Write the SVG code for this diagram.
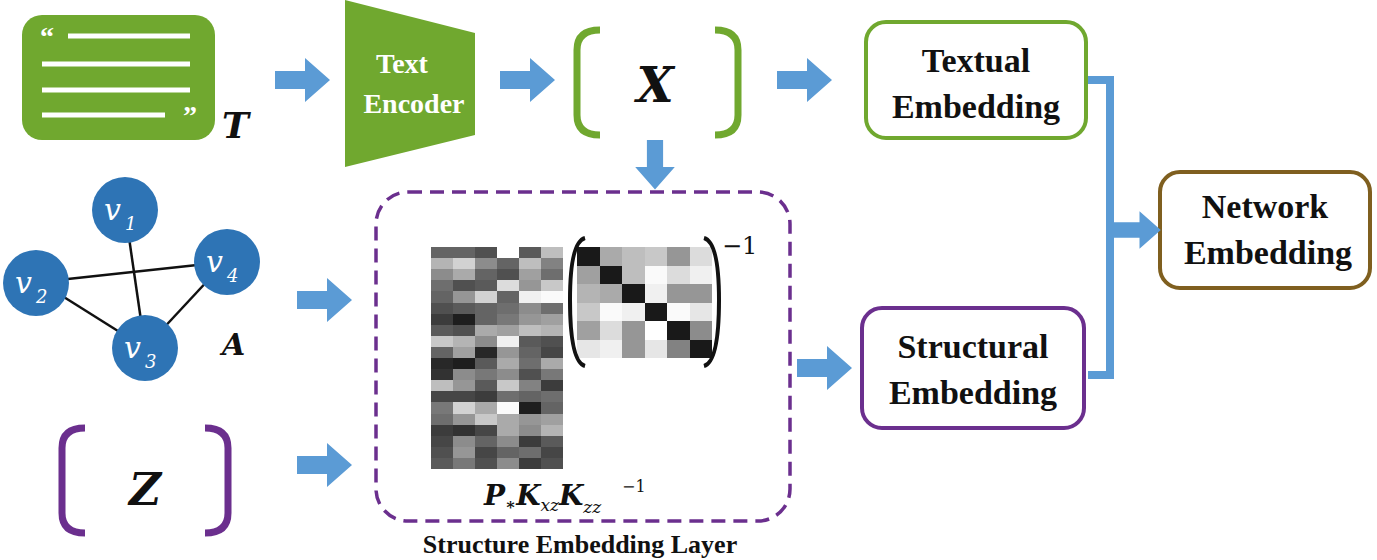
<svg xmlns="http://www.w3.org/2000/svg" width="1377" height="560" viewBox="0 0 1377 560">
<style>
.ser{font-family:"Liberation Serif",serif;font-weight:bold}
.math{font-family:"DejaVu Serif","Liberation Serif",serif;font-style:italic;font-weight:bold}
.lbl{font-family:"Liberation Serif",serif;font-weight:bold;font-size:34px;fill:#111;text-anchor:middle}
.arr{fill:#5b9bd5}
.node{fill:#2e74b5}
.vt{font-family:"DejaVu Serif",serif;font-style:italic;fill:#fff;font-size:30px}
.vs{font-family:"DejaVu Serif",serif;font-style:italic;fill:#fff;font-size:18px}
.hl rect{width:22px;height:11.2px}
.hr rect{width:22.5px;height:18.5px}
</style>
<defs>
<path id="ar" d="M0,-9 H30 V-22 L55,0 L30,22 V9 H0 Z"/>
</defs>
<rect width="1377" height="560" fill="#fff"/>
<g id="textT">
<rect x="22" y="15" width="193" height="125" rx="20" fill="#70a82f"/>
<g stroke="#fff" stroke-width="5"><line x1="68" y1="36" x2="190" y2="36"/><line x1="42" y1="64" x2="190" y2="64"/><line x1="42" y1="90" x2="190" y2="90"/><line x1="42" y1="115" x2="165" y2="115"/></g>
<text x="40" y="46" class="ser" font-size="28" fill="#fff">“</text>
<text x="183" y="125" class="ser" font-size="28" fill="#fff">”</text>
<text x="222" y="138" class="math" font-size="36" fill="#111">T</text>
</g>
<g id="encoder">
<polygon points="345,0 475,33 475,135 345,167" fill="#70a82f"/>
<text x="402" y="73" class="ser" font-size="28" fill="#fff" text-anchor="middle">Text</text>
<text x="414" y="113" class="ser" font-size="28" fill="#fff" text-anchor="middle">Encoder</text>
</g>
<g id="X">
<path d="M600,30 Q577,30 577,50 V115 Q577,135 600,135 M715,30 Q738,30 738,50 V115 Q738,135 715,135" fill="none" stroke="#70a82f" stroke-width="7"/>
<text x="655" y="102" class="math" font-size="48" text-anchor="middle" fill="#111">X</text>
</g>
<g id="textual">
<rect x="866" y="22" width="220" height="116" rx="20" fill="#fff" stroke="#70a82f" stroke-width="4"/>
<text x="976" y="72" class="lbl">Textual</text><text x="976" y="118" class="lbl">Embedding</text>
</g>
<g id="structural">
<rect x="862" y="308" width="222" height="120" rx="20" fill="#fff" stroke="#6b2f8e" stroke-width="4"/>
<text x="973" y="358" class="lbl">Structural</text><text x="973" y="404" class="lbl">Embedding</text>
</g>
<g id="network">
<rect x="1160" y="172" width="210" height="116" rx="20" fill="#fff" stroke="#7f5f1f" stroke-width="4"/>
<text x="1265" y="218" class="lbl">Network</text><text x="1268" y="264" class="lbl">Embedding</text>
</g>
<g id="graphA">
<g stroke="#111" stroke-width="2.5"><line x1="125" y1="210" x2="145" y2="348"/><line x1="40" y1="282" x2="225" y2="262"/><line x1="40" y1="282" x2="145" y2="348"/><line x1="225" y1="262" x2="145" y2="348"/></g>
<circle class="node" cx="125" cy="210" r="33"/><circle class="node" cx="36" cy="283" r="33"/><circle class="node" cx="227" cy="262" r="33"/><circle class="node" cx="145" cy="348" r="33"/>
<text x="104" y="220" class="vt">v</text><text x="125" y="230" class="vs">1</text>
<text x="15" y="293" class="vt">v</text><text x="36" y="303" class="vs">2</text>
<text x="206" y="272" class="vt">v</text><text x="227" y="282" class="vs">4</text>
<text x="124" y="358" class="vt">v</text><text x="145" y="368" class="vs">3</text>
<text x="222" y="355" class="math" font-size="30" fill="#111">A</text>
</g>
<g id="Z">
<path d="M85,428 Q62,428 62,448 V513 Q62,533 85,533 M205,428 Q228,428 228,448 V513 Q228,533 205,533" fill="none" stroke="#6b2f8e" stroke-width="7"/>
<text x="145" y="505" class="math" font-size="44" text-anchor="middle" fill="#111">Z</text>
</g>
<g id="layer">
<rect x="376" y="192" width="414" height="329" rx="32" fill="none" stroke="#6b2f8e" stroke-width="3.5" stroke-dasharray="14,8"/>
<g class="hl" shape-rendering="crispEdges">
<g transform="translate(431,247)"><rect x="0" fill="#646464"/><rect x="22" fill="#646464"/><rect x="44" fill="#505050"/><rect x="66" fill="#fff"/><rect x="88" fill="#5a5a5a"/><rect x="110" fill="#bebebe"/></g>
<g transform="translate(431,258.1)"><rect x="0" fill="#b4b4b4"/><rect x="22" fill="#d2d2d2"/><rect x="44" fill="#8c8c8c"/><rect x="66" fill="#646464"/><rect x="88" fill="#bebebe"/><rect x="110" fill="#828282"/></g>
<g transform="translate(431,269.2)"><rect x="0" fill="#8c8c8c"/><rect x="22" fill="#aaa"/><rect x="44" fill="#646464"/><rect x="66" fill="#505050"/><rect x="88" fill="#a0a0a0"/><rect x="110" fill="#6e6e6e"/></g>
<g transform="translate(431,280.3)"><rect x="0" fill="#6e6e6e"/><rect x="22" fill="#505050"/><rect x="44" fill="#5a5a5a"/><rect x="66" fill="#dcdcdc"/><rect x="88" fill="#969696"/><rect x="110" fill="#c8c8c8"/></g>
<g transform="translate(431,291.4)"><rect x="0" fill="#646464"/><rect x="22" fill="#969696"/><rect x="44" fill="#d2d2d2"/><rect x="66" fill="#646464"/><rect x="88" fill="#f0f0f0"/><rect x="110" fill="#fafafa"/></g>
<g transform="translate(431,302.5)"><rect x="0" fill="#505050"/><rect x="22" fill="#5a5a5a"/><rect x="44" fill="#646464"/><rect x="66" fill="#6e6e6e"/><rect x="88" fill="#8c8c8c"/><rect x="110" fill="#6e6e6e"/></g>
<g transform="translate(431,313.6)"><rect x="0" fill="#3c3c3c"/><rect x="22" fill="#1e1e1e"/><rect x="44" fill="#646464"/><rect x="66" fill="#787878"/><rect x="88" fill="#969696"/><rect x="110" fill="#a0a0a0"/></g>
<g transform="translate(431,324.7)"><rect x="0" fill="#5a5a5a"/><rect x="22" fill="#505050"/><rect x="44" fill="#aaa"/><rect x="66" fill="#a0a0a0"/><rect x="88" fill="#bebebe"/><rect x="110" fill="#b4b4b4"/></g>
<g transform="translate(431,335.8)"><rect x="0" fill="#c8c8c8"/><rect x="22" fill="#b4b4b4"/><rect x="44" fill="#8c8c8c"/><rect x="66" fill="#f0f0f0"/><rect x="88" fill="#5a5a5a"/><rect x="110" fill="#505050"/></g>
<g transform="translate(431,346.9)"><rect x="0" fill="#646464"/><rect x="22" fill="#a0a0a0"/><rect x="44" fill="#282828"/><rect x="66" fill="#969696"/><rect x="88" fill="#646464"/><rect x="110" fill="#464646"/></g>
<g transform="translate(431,358)"><rect x="0" fill="#282828"/><rect x="22" fill="#1e1e1e"/><rect x="44" fill="#5a5a5a"/><rect x="66" fill="#aaa"/><rect x="88" fill="#6e6e6e"/><rect x="110" fill="#aaa"/></g>
<g transform="translate(431,369.1)"><rect x="0" fill="#323232"/><rect x="22" fill="#8c8c8c"/><rect x="44" fill="#787878"/><rect x="66" fill="#8c8c8c"/><rect x="88" fill="#505050"/><rect x="110" fill="#787878"/></g>
<g transform="translate(431,380.2)"><rect x="0" fill="#bebebe"/><rect x="22" fill="#969696"/><rect x="44" fill="#5a5a5a"/><rect x="66" fill="#c8c8c8"/><rect x="88" fill="#828282"/><rect x="110" fill="#3c3c3c"/></g>
<g transform="translate(431,391.3)"><rect x="0" fill="#464646"/><rect x="22" fill="#464646"/><rect x="44" fill="#3c3c3c"/><rect x="66" fill="#6e6e6e"/><rect x="88" fill="#646464"/><rect x="110" fill="#6e6e6e"/></g>
<g transform="translate(431,402.4)"><rect x="0" fill="#787878"/><rect x="22" fill="#d2d2d2"/><rect x="44" fill="#aaa"/><rect x="66" fill="#fafafa"/><rect x="88" fill="#1e1e1e"/><rect x="110" fill="#646464"/></g>
<g transform="translate(431,413.5)"><rect x="0" fill="#6e6e6e"/><rect x="22" fill="#969696"/><rect x="44" fill="#c8c8c8"/><rect x="66" fill="#aaa"/><rect x="88" fill="#969696"/><rect x="110" fill="#a0a0a0"/></g>
<g transform="translate(431,424.6)"><rect x="0" fill="#3c3c3c"/><rect x="22" fill="#323232"/><rect x="44" fill="#464646"/><rect x="66" fill="#aaa"/><rect x="88" fill="#8c8c8c"/><rect x="110" fill="#b4b4b4"/></g>
<g transform="translate(431,435.7)"><rect x="0" fill="#464646"/><rect x="22" fill="#8c8c8c"/><rect x="44" fill="#646464"/><rect x="66" fill="#8c8c8c"/><rect x="88" fill="#3c3c3c"/><rect x="110" fill="#5a5a5a"/></g>
<g transform="translate(431,446.8)"><rect x="0" fill="#505050"/><rect x="22" fill="#969696"/><rect x="44" fill="#464646"/><rect x="66" fill="#646464"/><rect x="88" fill="#6e6e6e"/><rect x="110" fill="#464646"/></g>
<g transform="translate(431,457.9)"><rect x="0" fill="#5a5a5a"/><rect x="22" fill="#787878"/><rect x="44" fill="#505050"/><rect x="66" fill="#8c8c8c"/><rect x="88" fill="#3c3c3c"/><rect x="110" fill="#505050"/></g>
</g>
<g class="hr" shape-rendering="crispEdges">
<g transform="translate(577,247)"><rect x="0" fill="#191919"/><rect x="22.5" fill="#aaa"/><rect x="45" fill="#bebebe"/><rect x="67.5" fill="#c8c8c8"/><rect x="90" fill="#969696"/><rect x="112.5" fill="#dcdcdc"/></g>
<g transform="translate(577,265.5)"><rect x="0" fill="#a0a0a0"/><rect x="22.5" fill="#191919"/><rect x="45" fill="#bebebe"/><rect x="67.5" fill="#fafafa"/><rect x="90" fill="#dcdcdc"/><rect x="112.5" fill="#f0f0f0"/></g>
<g transform="translate(577,284)"><rect x="0" fill="#b4b4b4"/><rect x="22.5" fill="#aaa"/><rect x="45" fill="#191919"/><rect x="67.5" fill="#f0f0f0"/><rect x="90" fill="#969696"/><rect x="112.5" fill="#969696"/></g>
<g transform="translate(577,302.5)"><rect x="0" fill="#c8c8c8"/><rect x="22.5" fill="#fafafa"/><rect x="45" fill="#f0f0f0"/><rect x="67.5" fill="#191919"/><rect x="90" fill="#fafafa"/><rect x="112.5" fill="#e6e6e6"/></g>
<g transform="translate(577,321)"><rect x="0" fill="#a0a0a0"/><rect x="22.5" fill="#dcdcdc"/><rect x="45" fill="#969696"/><rect x="67.5" fill="#fff"/><rect x="90" fill="#191919"/><rect x="112.5" fill="#8c8c8c"/></g>
<g transform="translate(577,339.5)"><rect x="0" fill="#e6e6e6"/><rect x="22.5" fill="#f0f0f0"/><rect x="45" fill="#969696"/><rect x="67.5" fill="#e6e6e6"/><rect x="90" fill="#828282"/><rect x="112.5" fill="#191919"/></g>
</g>
<path d="M585,238 Q570,242 570,300 Q570,362 585,366 M704,238 Q719,242 719,300 Q719,362 704,366" fill="none" stroke="#111" stroke-width="4"/>
<text x="722" y="254" font-family="DejaVu Serif,serif" font-size="24" fill="#111">−1</text>
<text x="484" y="505" class="math" font-size="28" fill="#111">P<tspan font-size="16" dy="5">∗</tspan><tspan dy="-5">K</tspan><tspan font-size="17" dy="6" font-weight="normal">xz</tspan><tspan dy="-6">K</tspan><tspan font-size="17" dy="8" font-weight="normal">zz</tspan></text>
<text x="622" y="492" font-family="DejaVu Serif,serif" font-size="16" fill="#111">−1</text>
<text x="580" y="553" class="ser" font-size="26" fill="#111" text-anchor="middle">Structure Embedding Layer</text>
</g>
<g id="connectors" class="arr">
<use href="#ar" transform="translate(275,80)"/>
<use href="#ar" transform="translate(500,80)"/>
<use href="#ar" transform="translate(777,80)"/>
<use href="#ar" transform="translate(655,140) rotate(90) scale(0.9)"/>
<use href="#ar" transform="translate(297,300)"/>
<use href="#ar" transform="translate(297,465)"/>
<use href="#ar" transform="translate(797,368)"/>
<path d="M1088,76 H1114 V379 H1088 V371 H1106 V84 H1088 Z"/>
<use href="#ar" transform="translate(1114,230) scale(0.85)"/>
</g>
</svg>
